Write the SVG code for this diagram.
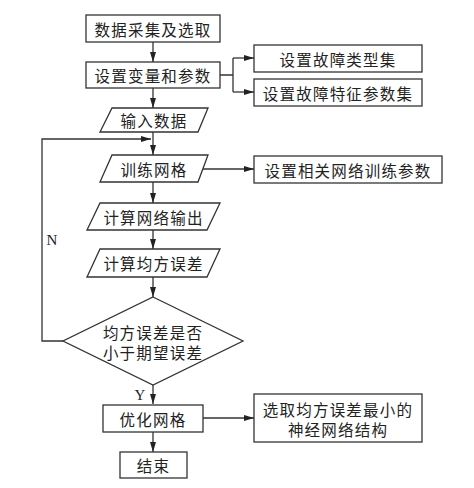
<svg xmlns="http://www.w3.org/2000/svg" width="474" height="488" viewBox="0 0 474 488">
<style>
.s{fill:#fff;stroke:#333;stroke-width:1.3}
.t{font-family:"Noto Sans CJK SC","Noto Sans",sans-serif;font-size:15.5px;fill:#222;text-anchor:middle;dominant-baseline:central;letter-spacing:1.2px}
.l{font-family:"Liberation Serif",serif;font-size:15px;fill:#222;text-anchor:middle;dominant-baseline:central}
.c{fill:none;stroke:#333;stroke-width:1.3}
</style>
<defs>
<marker id="a" viewBox="0 0 10 6" refX="10" refY="3" markerWidth="10" markerHeight="6" markerUnits="userSpaceOnUse" orient="auto">
<path d="M0,0L10,3L0,6z" fill="#222"/>
</marker>
</defs>
<rect width="474" height="488" fill="#fff"/>
<g id="connectors">
<path class="c" d="M153,42V62" marker-end="url(#a)"/>
<path class="c" d="M153,88V108" marker-end="url(#a)"/>
<path class="c" d="M220,75H233M233,58V92" />
<path class="c" d="M233,58H254" marker-end="url(#a)"/>
<path class="c" d="M233,92H254" marker-end="url(#a)"/>
<path class="c" d="M153,132V155" marker-end="url(#a)"/>
<path class="c" d="M63,341H42V139H151" marker-end="url(#a)"/>
<path class="c" d="M203,169H254" marker-end="url(#a)"/>
<path class="c" d="M153,182V203" marker-end="url(#a)"/>
<path class="c" d="M153,230V249" marker-end="url(#a)"/>
<path class="c" d="M153,277V297" marker-end="url(#a)"/>
<path class="c" d="M153,385V404" marker-end="url(#a)"/>
<path class="c" d="M203,418H254" marker-end="url(#a)"/>
<path class="c" d="M153,432V452" marker-end="url(#a)"/>
<text class="l" x="52" y="240">N</text>
<text class="l" x="140" y="395">Y</text>
</g>
<g id="n1"><rect class="s" x="86" y="15" width="134" height="27"/><text class="t" x="153" y="28.5">数据采集及选取</text></g>
<g id="n2"><rect class="s" x="86" y="62" width="134" height="26"/><text class="t" x="153" y="75">设置变量和参数</text></g>
<g id="n3"><rect class="s" x="254" y="45" width="168" height="27"/><text class="t" x="338" y="58.5">设置故障类型集</text></g>
<g id="n4"><rect class="s" x="254" y="79" width="168" height="27"/><text class="t" x="338" y="92.5">设置故障特征参数集</text></g>
<g id="n5"><path class="s" d="M112,108H208L198,132H100Z"/><text class="t" x="154" y="120">输入数据</text></g>
<g id="n6"><path class="s" d="M112,155H208L198,182H100Z"/><text class="t" x="154" y="168.5">训练网格</text></g>
<g id="n7"><rect class="s" x="254" y="156" width="188" height="27"/><text class="t" x="348" y="169.5">设置相关网络训练参数</text></g>
<g id="n8"><path class="s" d="M100,203H220L207,230H87Z"/><text class="t" x="153.5" y="216.5">计算网络输出</text></g>
<g id="n9"><path class="s" d="M100,249H220L207,277H87Z"/><text class="t" x="153.5" y="263">计算均方误差</text></g>
<g id="n10"><path class="s" d="M153,297L243,341L153,385L63,341Z"/><text class="t" x="153" y="332">均方误差是否</text><text class="t" x="153" y="352">小于期望误差</text></g>
<g id="n11"><rect class="s" x="103" y="405" width="100" height="27"/><text class="t" x="153" y="418.5">优化网格</text></g>
<g id="n12"><rect class="s" x="254" y="394" width="168" height="48"/><text class="t" x="338" y="409">选取均方误差最小的</text><text class="t" x="338" y="429">神经网络结构</text></g>
<g id="n13"><rect class="s" x="120" y="452" width="67" height="26"/><text class="t" x="153.5" y="465">结束</text></g>
</svg>
